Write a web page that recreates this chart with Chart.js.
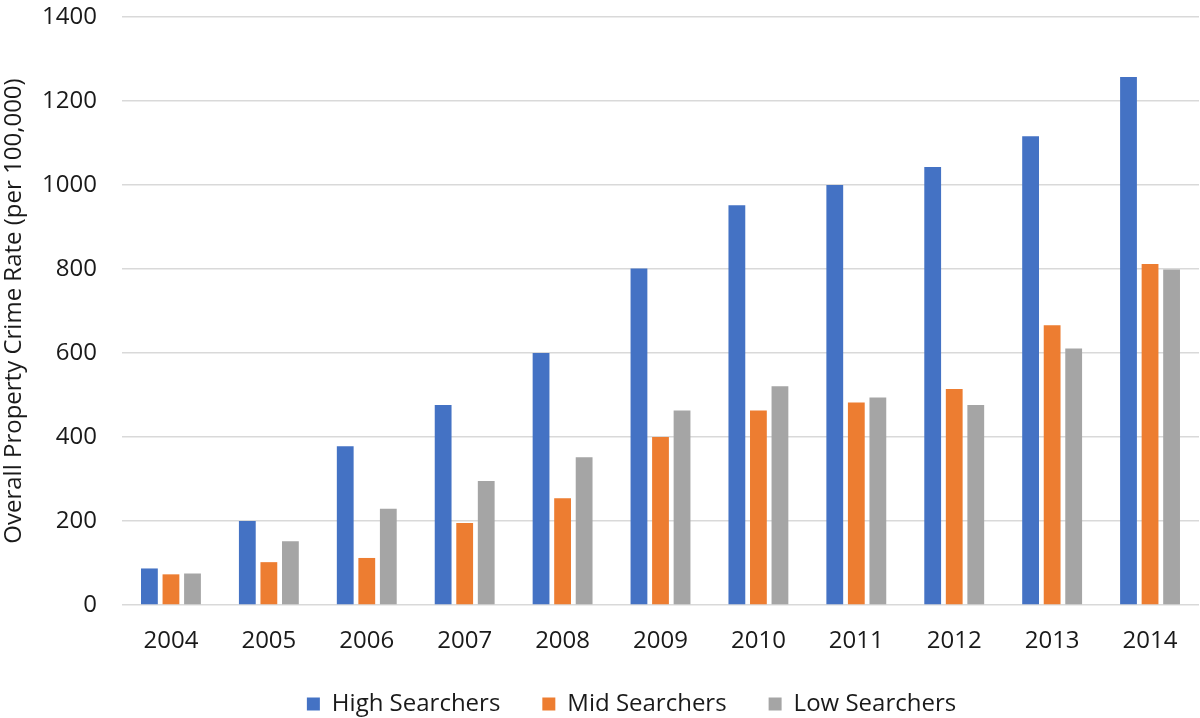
<!DOCTYPE html>
<html>
<head>
<meta charset="utf-8">
<script src="https://cdn.jsdelivr.net/npm/chart.js@4/dist/chart.umd.min.js"></script>
<style>
  html, body { margin: 0; padding: 0; background: #fff; }
  #wrap { width: 1200px; height: 718px; }
</style>
</head>
<body>
<div id="wrap"><canvas id="myChart"></canvas></div>
<script>
var years = ['2004', '2005', '2006', '2007', '2008', '2009', '2010', '2011', '2012', '2013', '2014'];
var highSearchers = [87, 200, 378, 476, 600, 801, 952, 1000, 1043, 1116, 1257];
var midSearchers = [73, 102, 112, 195, 254, 400, 463, 482, 514, 666, 812];
var lowSearchers = [75, 152, 229, 295, 352, 463, 521, 494, 476, 611, 799];
var yTicks = [0, 200, 400, 600, 800, 1000, 1200, 1400];

var font = 'Open Sans';
Chart.defaults.font.family = font;
Chart.defaults.color = '#1a1a1a';

var ctx = document.getElementById('myChart');

var data = {
    labels: years,
    datasets: [
        { label: 'High Searchers', data: highSearchers, backgroundColor: '#4472C4' },
        { label: 'Mid Searchers', data: midSearchers, backgroundColor: '#ED7D31' },
        { label: 'Low Searchers', data: lowSearchers, backgroundColor: '#A5A5A5' }
    ]
};

// keep the legend short in height while items stay far apart,
// and nudge it a bit right like in the original
var legendTweak = {
    id: 'legendTweak',
    afterInit: function (chart) {
        var fit = chart.legend.fit;
        chart.legend.fit = function () {
            fit.call(this);
            this.height = 68;
        };
    },
    afterLayout: function (chart) {
        chart.legend.left += 64;
    }
};

var myBarChart = new Chart(ctx, {
    type: 'bar',
    data: data,
    plugins: [legendTweak],
    options: {
        responsive: true,
        maintainAspectRatio: false,
        animation: false,
        datasets: {
            bar: { categoryPercentage: 0.66, barPercentage: 0.78 }
        },
        layout: { padding: { left: 0, right: 1, top: 17, bottom: 0 } },
        plugins: {
            tooltip: { enabled: false },
            legend: {
                position: 'bottom',
                labels: {
                    font: { size: 24 },
                    boxWidth: 13,
                    boxHeight: 13,
                    padding: 42
                }
            }
        },
        scales: {
            x: {
                grid: { display: false },
                border: { display: false },
                afterFit: function (scale) { scale.height = 45; },
                ticks: { font: { size: 24 }, padding: 14 }
            },
            y: {
                min: 0,
                max: 1400,
                afterFit: function (scale) {
                    scale.width = 122;
                    scale.paddingTop = 0;
                    scale.paddingBottom = 0;
                },
                afterBuildTicks: function (scale) {
                    scale.ticks = yTicks.map(v => ({ value: v }));
                },
                grid: { color: '#D9D9D9', lineWidth: 1.5, drawTicks: false },
                border: { display: false },
                ticks: {
                    font: { size: 24 },
                    padding: 25,
                    callback: function (v) { return String(v); }
                },
                title: {
                    display: true,
                    text: 'Overall Property Crime Rate (per 100,000)',
                    font: { size: 24 },
                    padding: { top: 0, bottom: 0 }
                }
            }
        }
    }
});
</script>
</body>
</html>
